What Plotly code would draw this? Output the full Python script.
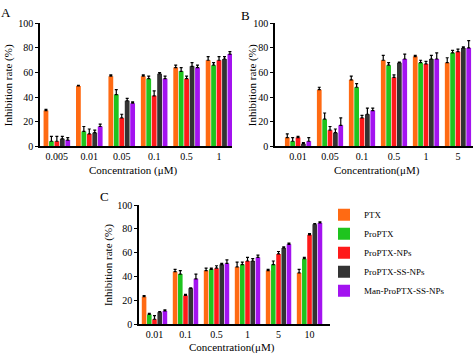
import plotly.graph_objects as go

series = ["PTX", "ProPTX", "ProPTX-NPs", "ProPTX-SS-NPs", "Man-ProPTX-SS-NPs"]
colors = ["#FF6A13", "#1EC41E", "#FF1A1A", "#333333", "#A313F0"]

a_cats = ["0.005", "0.01", "0.05", "0.1", "0.5", "1"]
a_vals = [
    [29, 49, 57, 57, 64, 70],
    [4, 12, 42, 55, 61, 66],
    [4, 10, 23, 41, 55, 70],
    [6, 11, 37, 59, 65, 71],
    [5, 16, 35, 55, 64, 75],
]
a_err = [
    [1, 0.5, 1, 1, 2, 3],
    [4, 4, 4, 2, 3, 2],
    [4, 4, 3, 4, 2, 3],
    [2, 2, 2, 1, 3, 2],
    [2, 2, 1, 2, 2, 2],
]

b_cats = ["0.01", "0.05", "0.1", "0.5", "1", "5"]
b_vals = [
    [7, 46, 54, 70, 73, 68],
    [4, 22, 48, 66, 68, 76],
    [7, 13, 23, 56, 67, 77],
    [2, 11, 26, 68, 71, 80],
    [4, 17, 29, 71, 71, 80],
]
b_err = [
    [3, 2, 3, 4, 1, 4],
    [3, 5, 3, 2, 2, 2],
    [1, 3, 2, 2, 2, 2],
    [1, 3, 5, 0.5, 3, 1],
    [3, 6, 2, 4, 5, 6],
]

c_cats = ["0.01", "0.1", "0.5", "1", "5", "10"]
c_vals = [
    [23, 44, 45, 48, 45, 43],
    [8, 42, 46, 50, 50, 55],
    [4, 24, 47, 53, 59, 75],
    [10, 30, 50, 53, 64, 84],
    [11, 38, 51, 56, 67, 85],
]
c_err = [
    [1, 2, 2, 4, 1, 3],
    [1, 3, 1, 2, 3, 1],
    [3, 1, 2, 3, 2, 1],
    [0.5, 0.5, 1, 2, 1, 0.5],
    [1, 4, 3, 2, 1, 1],
]

y_ticks = [0, 20, 40, 60, 80, 100]

FONT = "Liberation Serif, Times New Roman, serif"
W, H = 474, 360

fig = go.Figure()

panels = [
    ("x", "y", a_cats, a_vals, a_err),
    ("x2", "y2", b_cats, b_vals, b_err),
    ("x3", "y3", c_cats, c_vals, c_err),
]
for xa, ya, cats, vals, errs in panels:
    for i, name in enumerate(series):
        fig.add_trace(go.Bar(
            x=cats, y=vals[i], name=name, xaxis=xa, yaxis=ya,
            marker=dict(color=colors[i], line=dict(width=0)),
            error_y=dict(type="data", array=errs[i], arrayminus=[0] * len(cats),
                         symmetric=False, color="black", thickness=1.2, width=1.5),
            showlegend=(xa == "x3"), legendgroup=name,
        ))

def px_x(p):
    return p / W

def px_y(p):
    return 1 - p / H

axis_common = dict(showgrid=False, zeroline=False, showline=True, linecolor="black",
                   linewidth=1.5, tickfont=dict(family=FONT, size=10, color="black"))

layout_axes = {}
specs = [
    ("xaxis", "yaxis", (40, 232), (18, 145), [-0.52, 5.4], "y", "x"),
    ("xaxis2", "yaxis2", (275, 473), (18, 145), [-0.72, 5.47], "y2", "x2"),
    ("xaxis3", "yaxis3", (139, 330), (206, 329), [-0.5, 5.66], "y3", "x3"),
]
for xn, yn, (x0, x1), (y0, y1), xr, anchor_y, anchor_x in specs:
    layout_axes[xn] = dict(axis_common, domain=[px_x(x0), px_x(x1)], anchor=anchor_y,
                           range=xr, ticks="", type="category")
    layout_axes[yn] = dict(axis_common, domain=[px_y(y1), px_y(y0)], anchor=anchor_x,
                           range=[0, 100], tickvals=y_ticks, ticks="outside",
                           ticklen=3, tickwidth=1.2, tickcolor="black")

fig.update_layout(**layout_axes)

ann = []
def add_text(text, x, y, size=11, angle=0):
    ann.append(dict(text=text, x=px_x(x), y=px_y(y), xref="paper", yref="paper",
                    showarrow=False, textangle=angle, xanchor="center", yanchor="middle",
                    font=dict(family=FONT, size=size, color="black")))

add_text("A", 6, 7, size=13)
add_text("B", 245, 10, size=13)
add_text("C", 104, 197, size=13)
add_text("Concentration (μM)", 133, 170, size=11)
add_text("Concentration(μM)", 377, 170, size=11)
add_text("Concentration(μM)", 232, 353, size=11)
add_text("Inhibition rate (%)", 8, 82, size=11, angle=-90)
add_text("Inhibition rate (%)", 252, 82, size=11, angle=-90)
add_text("Inhibition rate (%)", 108, 268, size=11, angle=-90)

fig.update_layout(
    annotations=ann,
    width=W, height=H,
    margin=dict(l=0, r=0, t=0, b=0),
    paper_bgcolor="white", plot_bgcolor="white",
    barmode="group", bargap=0.16, bargroupgap=0.12,
    legend=dict(x=px_x(324), y=px_y(201), xanchor="left", yanchor="top",
                font=dict(family=FONT, size=9, color="black"),
                bgcolor="rgba(0,0,0,0)", tracegroupgap=0, itemwidth=30),
    font=dict(family=FONT),
)

fig.write_html("out.html", config={"displayModeBar": False})

with open("out.html", "r", encoding="utf-8") as f:
    html = f.read()
html = html.replace("<head>", "<head><style>html,body{margin:0;padding:0;overflow:hidden;}</style>", 1)
with open("out.html", "w", encoding="utf-8") as f:
    f.write(html)
